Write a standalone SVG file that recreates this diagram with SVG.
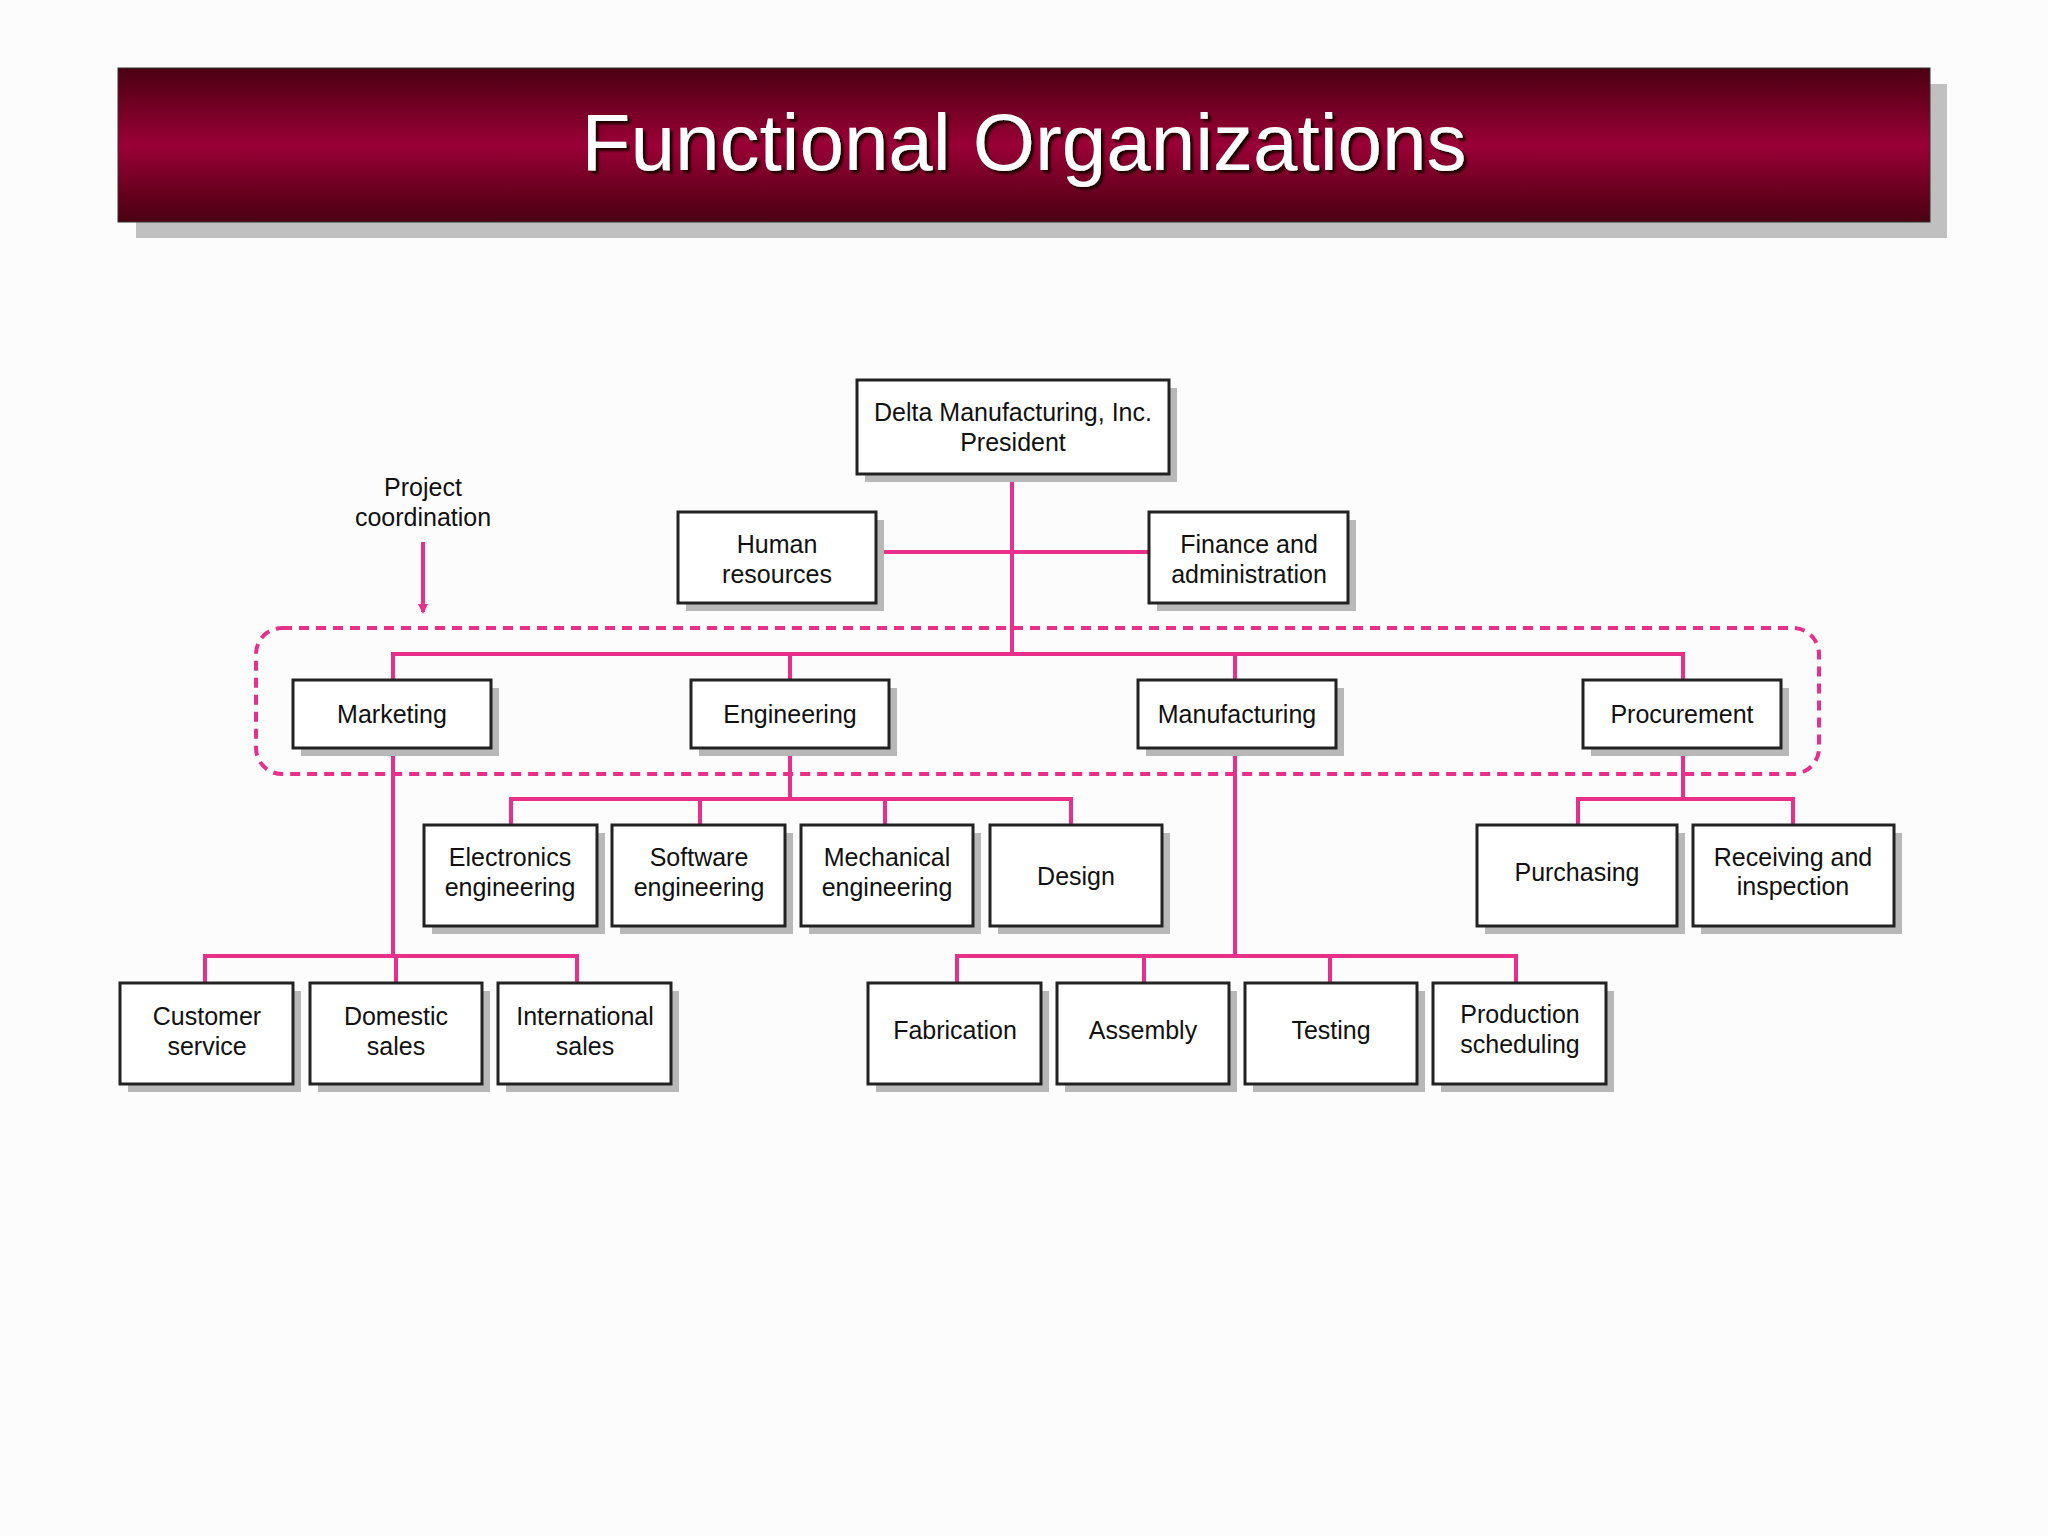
<svg xmlns="http://www.w3.org/2000/svg" width="2048" height="1536" viewBox="0 0 2048 1536">
<style>
.b rect.s{fill:#b8b8b8}
.b rect.f{fill:#fff;stroke:#222;stroke-width:3}
.b text{font-family:"Liberation Sans",Arial,sans-serif;font-size:25px;fill:#111;text-anchor:middle}
.c{stroke:#e8308a;stroke-width:4;fill:none}
</style>
<defs>
<linearGradient id="g" x1="0" y1="0" x2="0" y2="1">
<stop offset="0" stop-color="#4a0012"/><stop offset="0.5" stop-color="#9a0036"/><stop offset="1" stop-color="#4a0012"/>
</linearGradient>
<marker id="a" markerWidth="10" markerHeight="10" refX="8" refY="5" orient="auto" markerUnits="userSpaceOnUse"><path d="M0,0 L10,5 L0,10 Z" fill="#e8308a"/></marker>
<filter id="ts"><feDropShadow dx="3" dy="3" stdDeviation="1" flood-color="#200"/></filter>
</defs>
<rect width="2048" height="1536" fill="#fdfcfd"/>
<g id="title">
<rect x="136" y="84" width="1811" height="154" fill="#c0c0c0"/>
<rect x="118" y="68" width="1812" height="154" fill="url(#g)" stroke="#333" stroke-width="1"/>
<text x="1024" y="170" font-family="Liberation Sans,Arial,sans-serif" font-size="80" fill="#fff" text-anchor="middle" filter="url(#ts)">Functional Organizations</text>
</g>
<g id="connectors">
<rect x="256" y="628" width="1563" height="146" rx="26" class="c" stroke-dasharray="10,7" stroke-width="3.5"/>
<path class="c" d="M1012 474V654M876 552H1149M393 680V654H1683V680M790 654V680M1235 654V680"/>
<path class="c" d="M393 748V956M205 983V956H577V983M396 956V983"/>
<path class="c" d="M790 748V799M511 825V799H1071V825M700 799V825M885 799V825"/>
<path class="c" d="M1235 748V956M957 983V956H1516V983M1144 956V983M1330 956V983"/>
<path class="c" d="M1683 748V799M1578 825V799H1793V825"/>
<path class="c" d="M423 542V612" marker-end="url(#a)"/>
<text x="423" y="496" font-family="Liberation Sans,Arial,sans-serif" font-size="25" text-anchor="middle" fill="#111">Project</text>
<text x="423" y="526" font-family="Liberation Sans,Arial,sans-serif" font-size="25" text-anchor="middle" fill="#111">coordination</text>
</g>
<g id="president" class="b"><rect class="s" x="865" y="388" width="312" height="94"/><rect class="f" x="857" y="380" width="312" height="94"/><text x="1013" y="421">Delta Manufacturing, Inc.</text><text x="1013" y="451">President</text></g>
<g id="hr" class="b"><rect class="s" x="686" y="520" width="198" height="91"/><rect class="f" x="678" y="512" width="198" height="91"/><text x="777" y="553">Human</text><text x="777" y="583">resources</text></g>
<g id="finance" class="b"><rect class="s" x="1157" y="520" width="199" height="91"/><rect class="f" x="1149" y="512" width="199" height="91"/><text x="1249" y="553">Finance and</text><text x="1249" y="583">administration</text></g>
<g id="marketing" class="b"><rect class="s" x="301" y="688" width="198" height="68"/><rect class="f" x="293" y="680" width="198" height="68"/><text x="392" y="723">Marketing</text></g>
<g id="engineering" class="b"><rect class="s" x="699" y="688" width="198" height="68"/><rect class="f" x="691" y="680" width="198" height="68"/><text x="790" y="723">Engineering</text></g>
<g id="manufacturing" class="b"><rect class="s" x="1146" y="688" width="198" height="68"/><rect class="f" x="1138" y="680" width="198" height="68"/><text x="1237" y="723">Manufacturing</text></g>
<g id="procurement" class="b"><rect class="s" x="1591" y="688" width="198" height="68"/><rect class="f" x="1583" y="680" width="198" height="68"/><text x="1682" y="723">Procurement</text></g>
<g id="electronics" class="b"><rect class="s" x="432" y="833" width="173" height="101"/><rect class="f" x="424" y="825" width="173" height="101"/><text x="510" y="866">Electronics</text><text x="510" y="896">engineering</text></g>
<g id="software" class="b"><rect class="s" x="620" y="833" width="173" height="101"/><rect class="f" x="612" y="825" width="173" height="101"/><text x="699" y="866">Software</text><text x="699" y="896">engineering</text></g>
<g id="mechanical" class="b"><rect class="s" x="809" y="833" width="172" height="101"/><rect class="f" x="801" y="825" width="172" height="101"/><text x="887" y="866">Mechanical</text><text x="887" y="896">engineering</text></g>
<g id="design" class="b"><rect class="s" x="998" y="833" width="172" height="101"/><rect class="f" x="990" y="825" width="172" height="101"/><text x="1076" y="885">Design</text></g>
<g id="purchasing" class="b"><rect class="s" x="1485" y="833" width="200" height="101"/><rect class="f" x="1477" y="825" width="200" height="101"/><text x="1577" y="881">Purchasing</text></g>
<g id="receiving" class="b"><rect class="s" x="1701" y="833" width="201" height="101"/><rect class="f" x="1693" y="825" width="201" height="101"/><text x="1793" y="866">Receiving and</text><text x="1793" y="895">inspection</text></g>
<g id="customer" class="b"><rect class="s" x="128" y="991" width="173" height="101"/><rect class="f" x="120" y="983" width="173" height="101"/><text x="207" y="1025">Customer</text><text x="207" y="1055">service</text></g>
<g id="domestic" class="b"><rect class="s" x="318" y="991" width="172" height="101"/><rect class="f" x="310" y="983" width="172" height="101"/><text x="396" y="1025">Domestic</text><text x="396" y="1055">sales</text></g>
<g id="international" class="b"><rect class="s" x="506" y="991" width="173" height="101"/><rect class="f" x="498" y="983" width="173" height="101"/><text x="585" y="1025">International</text><text x="585" y="1055">sales</text></g>
<g id="fabrication" class="b"><rect class="s" x="876" y="991" width="173" height="101"/><rect class="f" x="868" y="983" width="173" height="101"/><text x="955" y="1039">Fabrication</text></g>
<g id="assembly" class="b"><rect class="s" x="1065" y="991" width="172" height="101"/><rect class="f" x="1057" y="983" width="172" height="101"/><text x="1143" y="1039">Assembly</text></g>
<g id="testing" class="b"><rect class="s" x="1253" y="991" width="172" height="101"/><rect class="f" x="1245" y="983" width="172" height="101"/><text x="1331" y="1039">Testing</text></g>
<g id="production" class="b"><rect class="s" x="1441" y="991" width="173" height="101"/><rect class="f" x="1433" y="983" width="173" height="101"/><text x="1520" y="1023">Production</text><text x="1520" y="1053">scheduling</text></g>
</svg>
